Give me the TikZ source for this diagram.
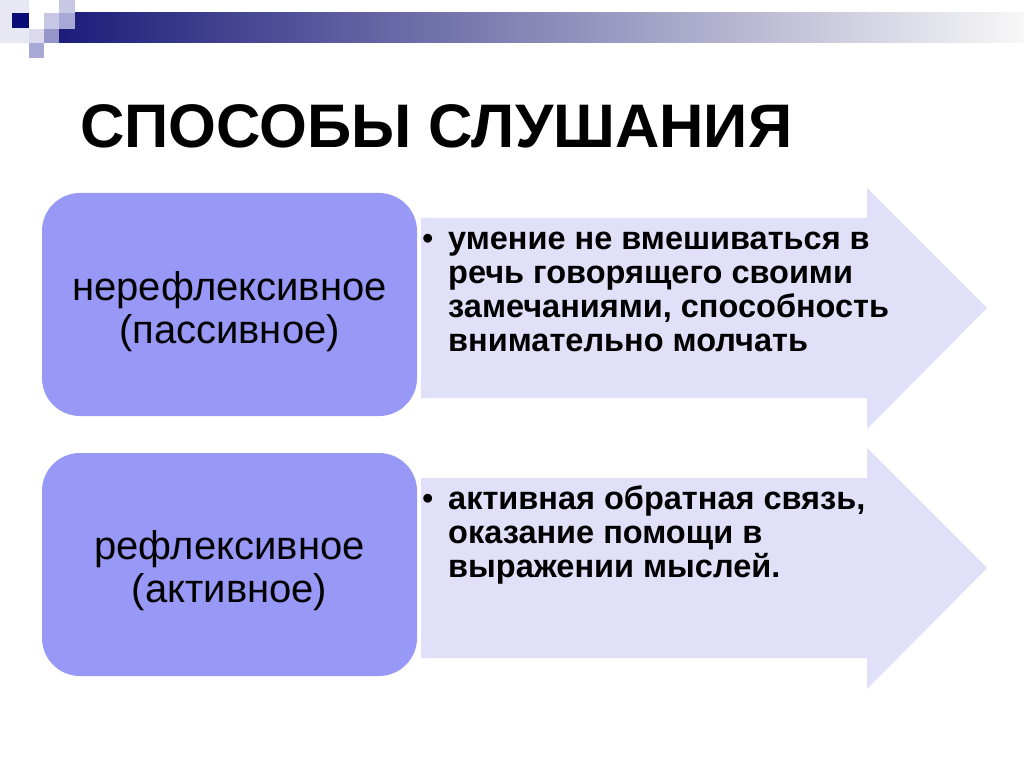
\documentclass[tikz,border=0pt]{standalone}
\usepackage{fontspec}
\setmainfont{Liberation Sans}
\definecolor{boxc}{RGB}{152,152,246}
\definecolor{arrc}{RGB}{224,224,248}
\definecolor{navy}{RGB}{28,28,122}
\definecolor{barmid}{RGB}{172,175,203}
\definecolor{pale}{RGB}{232,232,244}
\definecolor{paler}{RGB}{218,218,236}
\definecolor{dsq}{RGB}{12,12,118}
\definecolor{lsq}{RGB}{200,200,230}
\definecolor{msq}{RGB}{168,168,214}
\definecolor{nsq}{RGB}{150,150,202}
\begin{document}
\begin{tikzpicture}[x=1pt,y=-1pt,
  boxstyle/.style={fill=boxc, draw=none, rounded corners=38pt, minimum width=375pt, minimum height=223pt, inner sep=0pt},
  arrowstyle/.style={fill=arrc, draw=none},
  boxtext/.style={font=\fontsize{40}{43}\selectfont, inner sep=0pt, anchor=base, text=black},
  bultext/.style={font=\bfseries\fontsize{32.5}{34}\selectfont, inner sep=0pt, anchor=base west, text=black},
  titletext/.style={font=\bfseries\fontsize{61.5}{70}\selectfont, inner sep=0pt, anchor=base west, text=black}
  ]
\useasboundingbox[fill=white] (0,0) rectangle (1024,767);
% top decoration
\fill[left color=navy, middle color=barmid, right color=white!97!black] (59,13) rectangle (1024,43);
\fill[pale] (0,0) rectangle (29,43);
\fill[paler] (29,29) rectangle (44,43);
\fill[dsq] (12,13) rectangle (29,28);
\fill[lsq] (44,13) rectangle (59,29);
\fill[lsq] (59,0) rectangle (75,13);
\fill[msq] (59,13) rectangle (75,29);
\fill[nsq] (44,29) rectangle (59,43);
\fill[msq] (29,43) rectangle (44,58);
% title
\node[titletext] (title) at (80,148) {СПОСОБЫ СЛУШАНИЯ};
% arrows
\fill[arrowstyle] (421,218) -- (867,218) -- (867,188) -- (987,308) -- (867,429) -- (867,398) -- (421,398) -- cycle;
\fill[arrowstyle] (421,478) -- (867,478) -- (867,448) -- (987,568) -- (867,689) -- (867,658) -- (421,658) -- cycle;
% boxes
\node[boxstyle] (b1) at (229.5,304.5) {};
\node[boxstyle] (b2) at (229.5,564.5) {};
% box texts
\node[boxtext] (l1) at (229.5,300) {\begin{tabular}[t]{@{}c@{}}нерефлексивное\\(пассивное)\end{tabular}};
\node[boxtext] (l2) at (229.5,559) {\begin{tabular}[t]{@{}c@{}}рефлексивное\\(активное)\end{tabular}};
% bullet texts
\node[bultext] (t1) at (422,249) {\begin{tabular}[t]{@{}l@{}l@{}}\makebox[26pt][l]{\mdseries•}&умение не вмешиваться в\\&речь говорящего своими\\&замечаниями, способность\\&внимательно молчать\end{tabular}};
\node[bultext] (t2) at (422,509) {\begin{tabular}[t]{@{}l@{}l@{}}\makebox[26pt][l]{\mdseries•}&активная обратная связь,\\&оказание помощи в\\&выражении мыслей.\end{tabular}};
\end{tikzpicture}
\end{document}
